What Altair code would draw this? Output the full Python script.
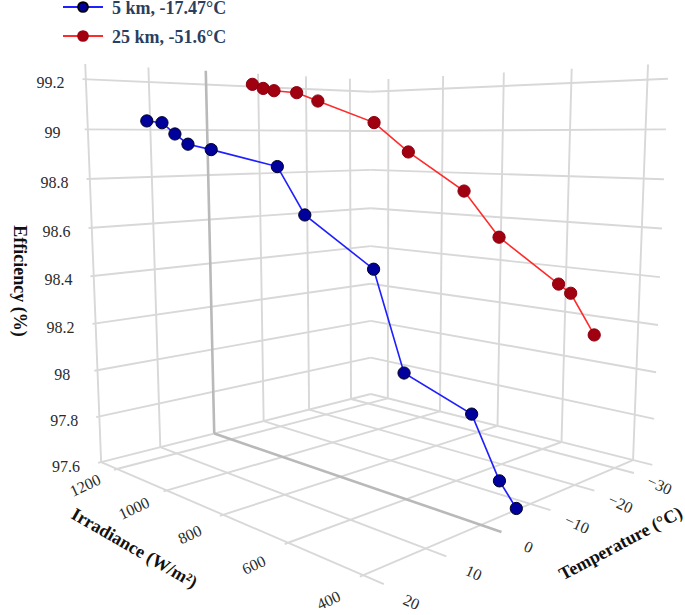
import numpy as np
import pandas as pd
import altair as alt

W, H = 685, 615

# ---------------- data ----------------
series_names = ["5 km, -17.47°C", "25 km, -51.6°C"]
irr_5km = [1050, 1020, 995, 970, 925, 800, 750, 625, 570, 450, 400, 370]
temp_5km = [19.28, 18.23, 17.36, 16.48, 14.91, 10.53, 8.78, 4.41, 2.48, -1.72, -3.47, -4.52]
eff_5km = [99.030, 99.023, 98.981, 98.943, 98.923, 98.862, 98.686, 98.494, 98.115, 97.979, 97.738, 97.640]
irr_25km = [1250, 1225, 1200, 1148, 1100, 975, 900, 780, 705, 580, 555, 505]
temp_25km = [-7.85, -8.73, -9.60, -11.42, -13.10, -17.48, -20.10, -24.30, -26.93, -31.30, -32.18, -33.93]
eff_25km = [99.208, 99.189, 99.178, 99.168, 99.130, 99.033, 98.904, 98.735, 98.536, 98.339, 98.301, 98.123]

irr_ticks = [400, 600, 800, 1000, 1200]
temp_ticks = [-30, -20, -10, 0, 10, 20]
eff_ticks = [97.6, 97.8, 98.0, 98.2, 98.4, 98.6, 98.8, 99.0, 99.2]
eff_labels = ["97.6", "97.8", "98", "98.2", "98.4", "98.6", "98.8", "99", "99.2"]
temp_labels = ["\u221230", "\u221220", "\u221210", "0", "10", "20"]

# axis ranges of the 3D box
IRR = (350.0, 1270.0)
TMP = (-35.0, 20.5)
EFF = (97.6, 99.26)

# ---------------- camera (perspective view of the box) ----------------
az, el, dist, tz, FOC, CX, CY, KX, KY = 2.3536, 0.1431, 5.0216, -0.0649, 1010.61, 374.32, 282.39, 1.0133, 0.9857
tgt = np.array([0.0, 0.0, tz])
eye = tgt + dist * np.array([np.cos(el) * np.cos(az), np.cos(el) * np.sin(az), np.sin(el)])
fwd = (tgt - eye) / np.linalg.norm(tgt - eye)
rgt = np.cross(fwd, [0, 0, 1.0]); rgt /= np.linalg.norm(rgt)
upv = np.cross(rgt, fwd)


def nrm(v, r):
    return 2 * (v - r[0]) / (r[1] - r[0]) - 1


def hom(i, t, e):
    n = np.array([nrm(i, IRR) * KX, nrm(t, TMP) * KY, nrm(e, EFF)])
    v = n - eye
    xc, yc, zc = v @ rgt, v @ upv, v @ fwd
    return np.array([CX * zc + FOC * xc, CY * zc - FOC * yc, zc])


base = hom(0, 0, 0)
cols = [hom(1, 0, 0) - base, hom(0, 1, 0) - base, hom(0, 0, 1) - base]


def expr(row, fi, ft, fe):
    return (f"({cols[0][row]:.9g}*datum.{fi}+{cols[1][row]:.9g}*datum.{ft}"
            f"+{cols[2][row]:.9g}*datum.{fe}+{base[row]:.9g})")


def proj(chart, fi="irr", ft="temp", fe="eff", sx="sx", sy="sy"):
    return chart.transform_calculate(
        **{sx: f"{expr(0, fi, ft, fe)}/{expr(2, fi, ft, fe)}",
           sy: f"{expr(1, fi, ft, fe)}/{expr(2, fi, ft, fe)}"})


xs = alt.Scale(domain=[0, W], range=[0, W])
ys = alt.Scale(domain=[0, H], range=[0, H])
X = alt.X("sx:Q", scale=xs, axis=None)
Y = alt.Y("sy:Q", scale=ys, axis=None)

# ---------------- grid on the back walls and floor ----------------
segs = []
for e in eff_ticks:
    segs.append((IRR[1], TMP[0], e, IRR[1], TMP[1], e, "g"))
    segs.append((IRR[0], TMP[0], e, IRR[1], TMP[0], e, "g"))
for t in temp_ticks:
    k = "z" if t == 0 else "g"
    segs.append((IRR[1], t, EFF[0], IRR[1], t, EFF[1], k))
    segs.append((IRR[0], t, EFF[0], IRR[1], t, EFF[0], k))
for g in irr_ticks:
    segs.append((g, TMP[0], EFF[0], g, TMP[0], EFF[1], "g"))
    segs.append((g, TMP[0], EFF[0], g, TMP[1], EFF[0], "g"))
grid_df = pd.DataFrame(segs, columns=["irr", "temp", "eff", "irr2", "temp2", "eff2", "kind"])

grid_base = proj(proj(alt.Chart(grid_df)), "irr2", "temp2", "eff2", "sx2", "sy2")
grid = grid_base.transform_filter(alt.datum.kind == "g").mark_rule(
    color="#d8d8d8", strokeWidth=1.9).encode(X, Y, x2="sx2:Q", y2="sy2:Q")
zero = grid_base.transform_filter(alt.datum.kind == "z").mark_rule(
    color="#b9b9b9", strokeWidth=2.6).encode(X, Y, x2="sx2:Q", y2="sy2:Q")

# ---------------- series ----------------
rows = []
for s, ii, tt, ee in ((series_names[0], irr_5km, temp_5km, eff_5km),
                      (series_names[1], irr_25km, temp_25km, eff_25km)):
    for n, (i, t, e) in enumerate(zip(ii, tt, ee)):
        rows.append(dict(series=s, idx=n, irr=i, temp=t, eff=e))
df = pd.DataFrame(rows)

line_col = alt.Scale(domain=series_names, range=["#1f1fff", "#ff2a2a"])
fill_col = alt.Scale(domain=series_names, range=["#00009c", "#a0000f"])
edge_col = alt.Scale(domain=series_names, range=["#000022", "#8a0010"])

lines = proj(alt.Chart(df)).mark_line(strokeWidth=1.6).encode(
    X, Y, order="idx:Q", detail="series:N",
    color=alt.Color("series:N", scale=line_col, legend=None))
marks = proj(alt.Chart(df)).mark_point(filled=True, shape="circle", size=150, opacity=1,
                                       strokeWidth=1).encode(
    X, Y,
    fill=alt.Fill("series:N", scale=fill_col, legend=None),
    stroke=alt.Stroke("series:N", scale=edge_col, legend=None))

# ---------------- tick labels ----------------
SERIF = "Liberation Serif, Times New Roman, serif"
tick_font = dict(font=SERIF, fontSize=16, color="#2b2b2b")
eff_df = pd.DataFrame(dict(irr=IRR[1], temp=TMP[1], eff=eff_ticks, lab=eff_labels))
eff_txt = proj(alt.Chart(eff_df)).mark_text(align="center", baseline="middle", dx=-32, dy=4,
                                            **tick_font).encode(X, Y, text="lab:N")

irr_df = pd.DataFrame(dict(irr=irr_ticks, lab=[str(g) for g in irr_ticks]))
irr_df["temp"] = TMP[1] + 4.5
irr_df["eff"] = EFF[0] - 0.035
irr_txt = proj(alt.Chart(irr_df)).mark_text(align="center", baseline="middle", angle=335,
                                            **tick_font).encode(X, Y, text="lab:N")

tmp_df = pd.DataFrame(dict(temp=temp_ticks, lab=temp_labels))
tmp_df["irr"] = IRR[0] - 60
tmp_df["eff"] = EFF[0] - 0.01
tmp_txt = proj(alt.Chart(tmp_df)).mark_text(align="center", baseline="middle", angle=24, dx=3, dy=3,
                                            **tick_font).encode(X, Y, text="lab:N")

# ---------------- axis titles ----------------
title_font = dict(font=SERIF, fontSize=18, fontWeight="bold", color="#111111")
t_eff = alt.Chart(pd.DataFrame(dict(t=["Efficiency (%)"]))).mark_text(angle=90, **title_font).encode(
    x=alt.value(19), y=alt.value(281), text="t:N")
t_irr = alt.Chart(pd.DataFrame(dict(t=["Irradiance (W/m\u00b2)"]))).mark_text(
    angle=30, **title_font).encode(x=alt.value(134), y=alt.value(549), text="t:N")
t_tmp = alt.Chart(pd.DataFrame(dict(t=["Temperature (\u00b0C)"]))).mark_text(
    angle=332, **title_font).encode(x=alt.value(621), y=alt.value(544), text="t:N")

# ---------------- legend ----------------
leg = pd.DataFrame(dict(series=series_names, row=[0, 1]))
leg_y = alt.Y("row:Q", scale=alt.Scale(domain=[0, 1], range=[7, 36]), axis=None)
leg_line = alt.Chart(leg).mark_rule(strokeWidth=2).encode(
    x=alt.value(63), x2=alt.value(103), y=leg_y,
    color=alt.Color("series:N", scale=line_col, legend=None))
leg_pt = alt.Chart(leg).mark_point(filled=True, shape="circle", size=95, opacity=1,
                                   strokeWidth=2).encode(
    x=alt.value(83), y=leg_y,
    fill=alt.Fill("series:N", scale=fill_col, legend=None),
    stroke=alt.Stroke("series:N", scale=alt.Scale(domain=series_names, range=["#000000", "#a0000f"]),
                      legend=None))
leg_txt = alt.Chart(leg).mark_text(align="left", baseline="middle", dy=2, font=SERIF,
                                   fontSize=18, fontWeight="bold", color="#2a3f5f").encode(
    x=alt.value(112), y=leg_y, text="series:N")

chart = alt.layer(grid, zero, lines, marks, eff_txt, irr_txt, tmp_txt,
                  t_eff, t_irr, t_tmp, leg_line, leg_pt, leg_txt).resolve_scale(
    fill="independent", stroke="independent", y="independent").properties(
    width=W, height=H, padding=0, autosize=alt.AutoSizeParams(type="none")
).configure_view(stroke=None)

chart.save("out.html", embed_options={"renderer": "svg", "actions": False})
